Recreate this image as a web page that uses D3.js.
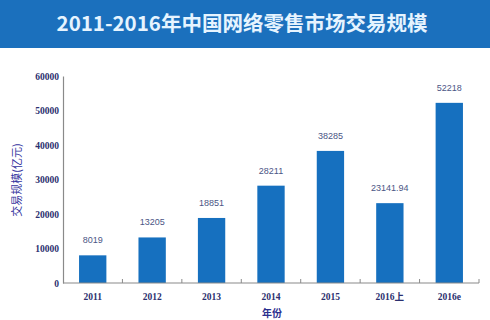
<!DOCTYPE html>
<html>
<head>
<meta charset="utf-8">
<script src="https://cdn.jsdelivr.net/npm/d3@7"></script>
<style>
  body { margin: 0; background: #fff; }
  svg { display: block; }
</style>
</head>
<body>
<script>
// chart data
var years = ["2011", "2012", "2013", "2014", "2015", "2016上", "2016e"];
var values = [8019, 13205, 18851, 28211, 38285, 23141.94, 52218];
var valueLabels = ["8019", "13205", "18851", "28211", "38285", "23141.94", "52218"];
var yTicks = [0, 10000, 20000, 30000, 40000, 50000, 60000];

var width = 490, height = 320;
var svg = d3.select("body").append("svg")
  .attr("width", width)
  .attr("height", height);

// title band
svg.append("rect")
  .attr("x", 0).attr("y", 0)
  .attr("width", width).attr("height", 48)
  .attr("fill", "#1b70bd");
svg.append("text")
  .attr("x", 242).attr("y", 31)
  .attr("text-anchor", "middle")
  .attr("font-family", "'Noto Sans CJK SC', sans-serif")
  .attr("font-weight", "bold")
  .attr("font-size", "20.5px")
  .attr("fill", "#e6f4ff")
  .text("2011-2016年中国网络零售市场交易规模");

// plot box (window.top is taken, so no plain "top")
var plotL = 63, plotR = 479, plotT = 76, plotB = 283;

var x = d3.scaleBand()
  .domain(years)
  .range([plotL, plotR])
  .paddingInner(0.54)
  .paddingOuter(0.27);

var y = d3.scaleLinear()
  .domain([0, 60000])
  .range([plotB, plotT]);

// bars
svg.selectAll("rect.bar")
  .data(values)
  .enter().append("rect")
  .attr("class", "bar")
  .attr("x", function(d, i) { return x(years[i]); })
  .attr("y", function(d) { return y(d); })
  .attr("width", x.bandwidth())
  .attr("height", function(d) { return plotB - y(d); })
  .attr("fill", "#1670bf");

// value labels
svg.selectAll("text.val")
  .data(values)
  .enter().append("text")
  .attr("class", "val")
  .attr("x", function(d, i) { return x(years[i]) + x.bandwidth() / 2; })
  .attr("y", function(d) { return y(d) - 12; })
  .attr("text-anchor", "middle")
  .attr("font-family", "'Liberation Sans', sans-serif")
  .attr("font-size", "9px")
  .attr("fill", "#4b5585")
  .text(function(d, i) { return valueLabels[i]; });

// y axis
var yAxis = d3.axisLeft(y).tickValues(yTicks).tickFormat(d3.format("d"))
  .tickSize(0).tickPadding(4);
var gy = svg.append("g")
  .attr("transform", "translate(" + plotL + ",0)")
  .call(yAxis);
gy.select(".domain").attr("stroke", "#8a8a8a").attr("stroke-width", 1.2);
gy.selectAll("text")
  .attr("font-family", "'Liberation Serif', serif")
  .attr("font-weight", "bold")
  .attr("font-size", "9.5px")
  .attr("fill", "#2b2f6e");

// x axis: ticks at band boundaries, pointing up
var step = x.step();
var bounds = d3.range(1, years.length + 1).map(function(i) { return plotL + i * step; });
svg.append("line")
  .attr("x1", plotL).attr("x2", plotR)
  .attr("y1", plotB).attr("y2", plotB)
  .attr("stroke", "#8a8a8a").attr("stroke-width", 1.2);
svg.selectAll("line.xt")
  .data(bounds)
  .enter().append("line")
  .attr("class", "xt")
  .attr("x1", function(d) { return d; }).attr("x2", function(d) { return d; })
  .attr("y1", plotB).attr("y2", plotB - 4)
  .attr("stroke", "#8a8a8a");

svg.selectAll("text.xl")
  .data(years)
  .enter().append("text")
  .attr("class", "xl")
  .attr("x", function(d) { return x(d) + x.bandwidth() / 2; })
  .attr("y", 300)
  .attr("text-anchor", "middle")
  .attr("font-family", "'Liberation Serif', 'Noto Sans CJK SC', serif")
  .attr("font-weight", "bold")
  .attr("font-size", "9.5px")
  .attr("fill", "#2b2f6e")
  .text(function(d) { return d; });

// axis titles
svg.append("text")
  .attr("x", 272).attr("y", 317)
  .attr("text-anchor", "middle")
  .attr("font-family", "'Noto Sans CJK SC', sans-serif")
  .attr("font-weight", "bold")
  .attr("font-size", "10px")
  .attr("fill", "#2b2f8e")
  .text("年份");

svg.append("text")
  .attr("transform", "translate(21,180) rotate(-90)")
  .attr("text-anchor", "middle")
  .attr("font-family", "'Noto Sans CJK SC', sans-serif")
  .attr("font-size", "11px")
  .attr("fill", "#3535a0")
  .text("交易规模(亿元)");
</script>
</body>
</html>
